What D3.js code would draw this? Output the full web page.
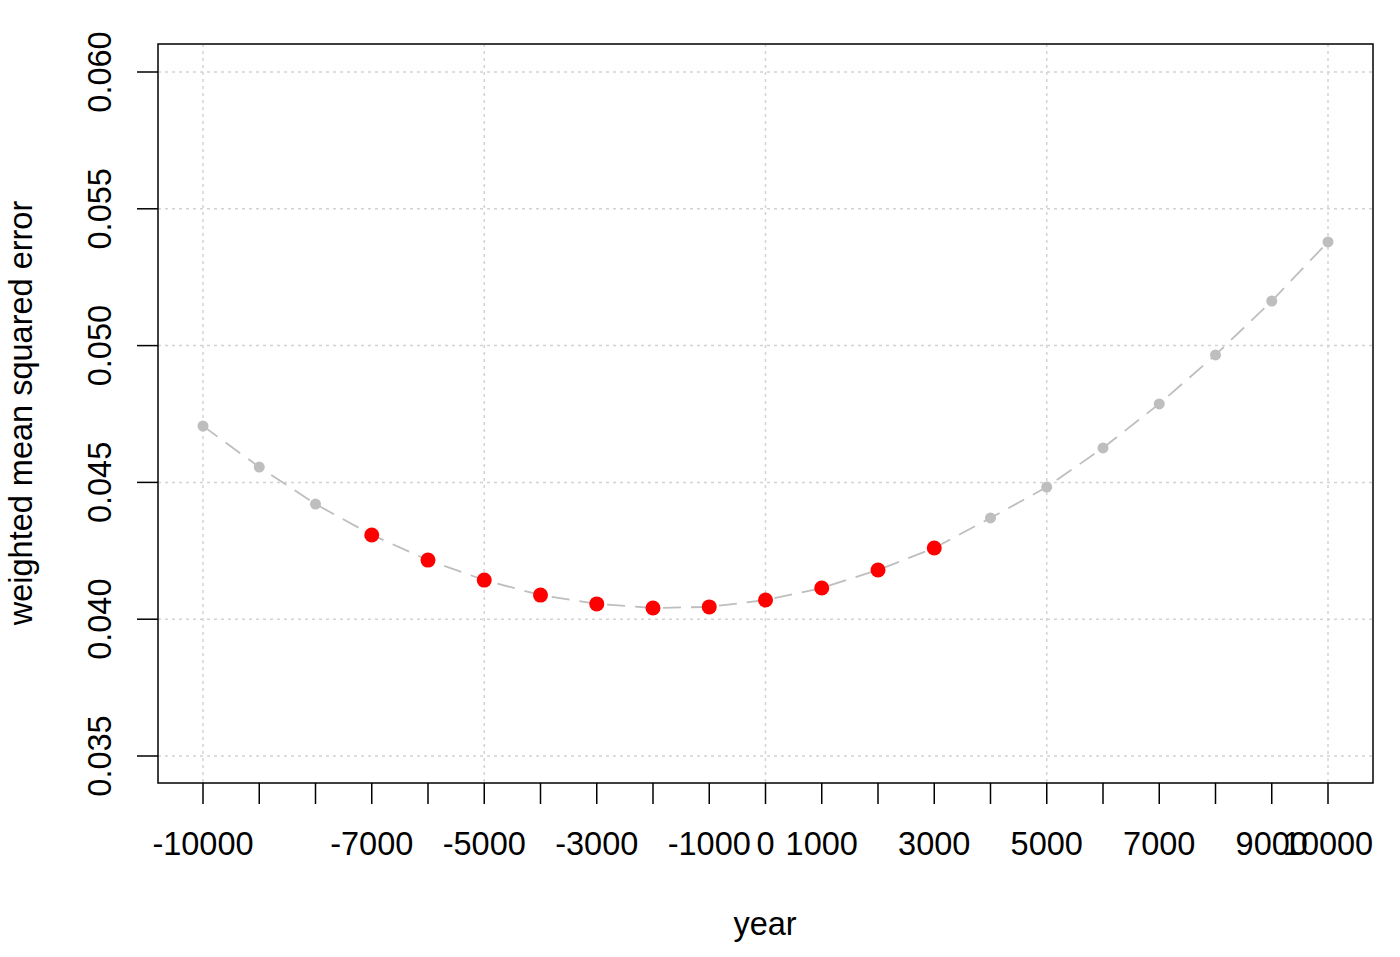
<!DOCTYPE html>
<html>
<head>
<script src="https://cdn.jsdelivr.net/npm/d3@7"></script>
<style>body{margin:0;background:#fff;} text{font-family:"Liberation Sans",Arial,sans-serif;}</style>
</head>
<body>
<div id="container"></div>
<script>
const years = [-10000,-9000,-8000,-7000,-6000,-5000,-4000,-3000,-2000,-1000,0,1000,2000,3000,4000,5000,6000,7000,8000,9000,10000];
const mse = [0.04706,0.04556,0.04421,0.04308,0.04216,0.04143,0.04088,0.04056,0.04041,0.04045,0.04070,0.04114,0.04180,0.04260,0.04370,0.04483,0.04626,0.04787,0.04966,0.05163,0.05379];
const highlighted = [-7000,-6000,-5000,-4000,-3000,-2000,-1000,0,1000,2000,3000];
const xLabels = [-10000,-7000,-5000,-3000,-1000,0,1000,3000,5000,7000,9000,10000];
const xGrid = [-10000,-5000,0,5000,10000];
const yTicks = [0.035,0.040,0.045,0.050,0.055,0.060];

const width = 1400, height = 957;
const fs = 32.5;
const x = d3.scaleLinear().domain([-10000, 10000]).range([203, 1328]);
const y = d3.scaleLinear().domain([0.035, 0.060]).range([756, 72]);

const svg = d3.create("svg").attr("width", width).attr("height", height);

// grid
svg.selectAll(".gx").data(xGrid).enter().append("line")
  .attr("x1", d => x(d)).attr("x2", d => x(d)).attr("y1", 44).attr("y2", 783)
  .attr("stroke", "#d3d3d3").attr("stroke-width", 1.5).attr("stroke-dasharray", "3,4");
svg.selectAll(".gy").data(yTicks).enter().append("line")
  .attr("x1", 158).attr("x2", 1373).attr("y1", d => y(d)).attr("y2", d => y(d))
  .attr("stroke", "#d3d3d3").attr("stroke-width", 1.5).attr("stroke-dasharray", "3,4");

// line
const line = d3.line().x((d, i) => x(years[i])).y(d => y(d));
svg.append("path").attr("d", line(mse)).attr("fill", "none")
  .attr("stroke", "#bebebe").attr("stroke-width", 1.8).attr("stroke-dasharray", "18,10");

// points
svg.selectAll(".pt").data(years).enter().append("circle")
  .attr("cx", d => x(d)).attr("cy", (d, i) => y(mse[i]))
  .attr("r", d => highlighted.includes(d) ? 7.5 : 5.5)
  .attr("fill", d => highlighted.includes(d) ? "#ff0000" : "#bebebe");

// box
svg.append("rect").attr("x", 158).attr("y", 44).attr("width", 1215).attr("height", 739)
  .attr("fill", "none").attr("stroke", "#000").attr("stroke-width", 1.5);

// x axis
svg.selectAll(".tx").data(years).enter().append("line")
  .attr("x1", d => x(d)).attr("x2", d => x(d)).attr("y1", 783).attr("y2", 804)
  .attr("stroke", "#000").attr("stroke-width", 1.5);
svg.selectAll(".lx").data(xLabels).enter().append("text")
  .attr("x", d => x(d)).attr("y", 855).attr("text-anchor", "middle")
  .attr("font-size", fs).text(d => d);

// y axis
svg.selectAll(".ty").data(yTicks).enter().append("line")
  .attr("x1", 137).attr("x2", 158).attr("y1", d => y(d)).attr("y2", d => y(d))
  .attr("stroke", "#000").attr("stroke-width", 1.5);
svg.selectAll(".ly").data(yTicks).enter().append("text")
  .attr("transform", d => `translate(111,${y(d)}) rotate(-90)`)
  .attr("text-anchor", "middle").attr("font-size", fs).text(d => d.toFixed(3));

svg.append("text").attr("x", 765).attr("y", 935).attr("text-anchor", "middle")
  .attr("font-size", fs).text("year");
svg.append("text").attr("transform", "translate(32,413) rotate(-90)")
  .attr("text-anchor", "middle").attr("font-size", fs).text("weighted mean squared error");

document.getElementById("container").append(svg.node());
</script>
</body>
</html>
